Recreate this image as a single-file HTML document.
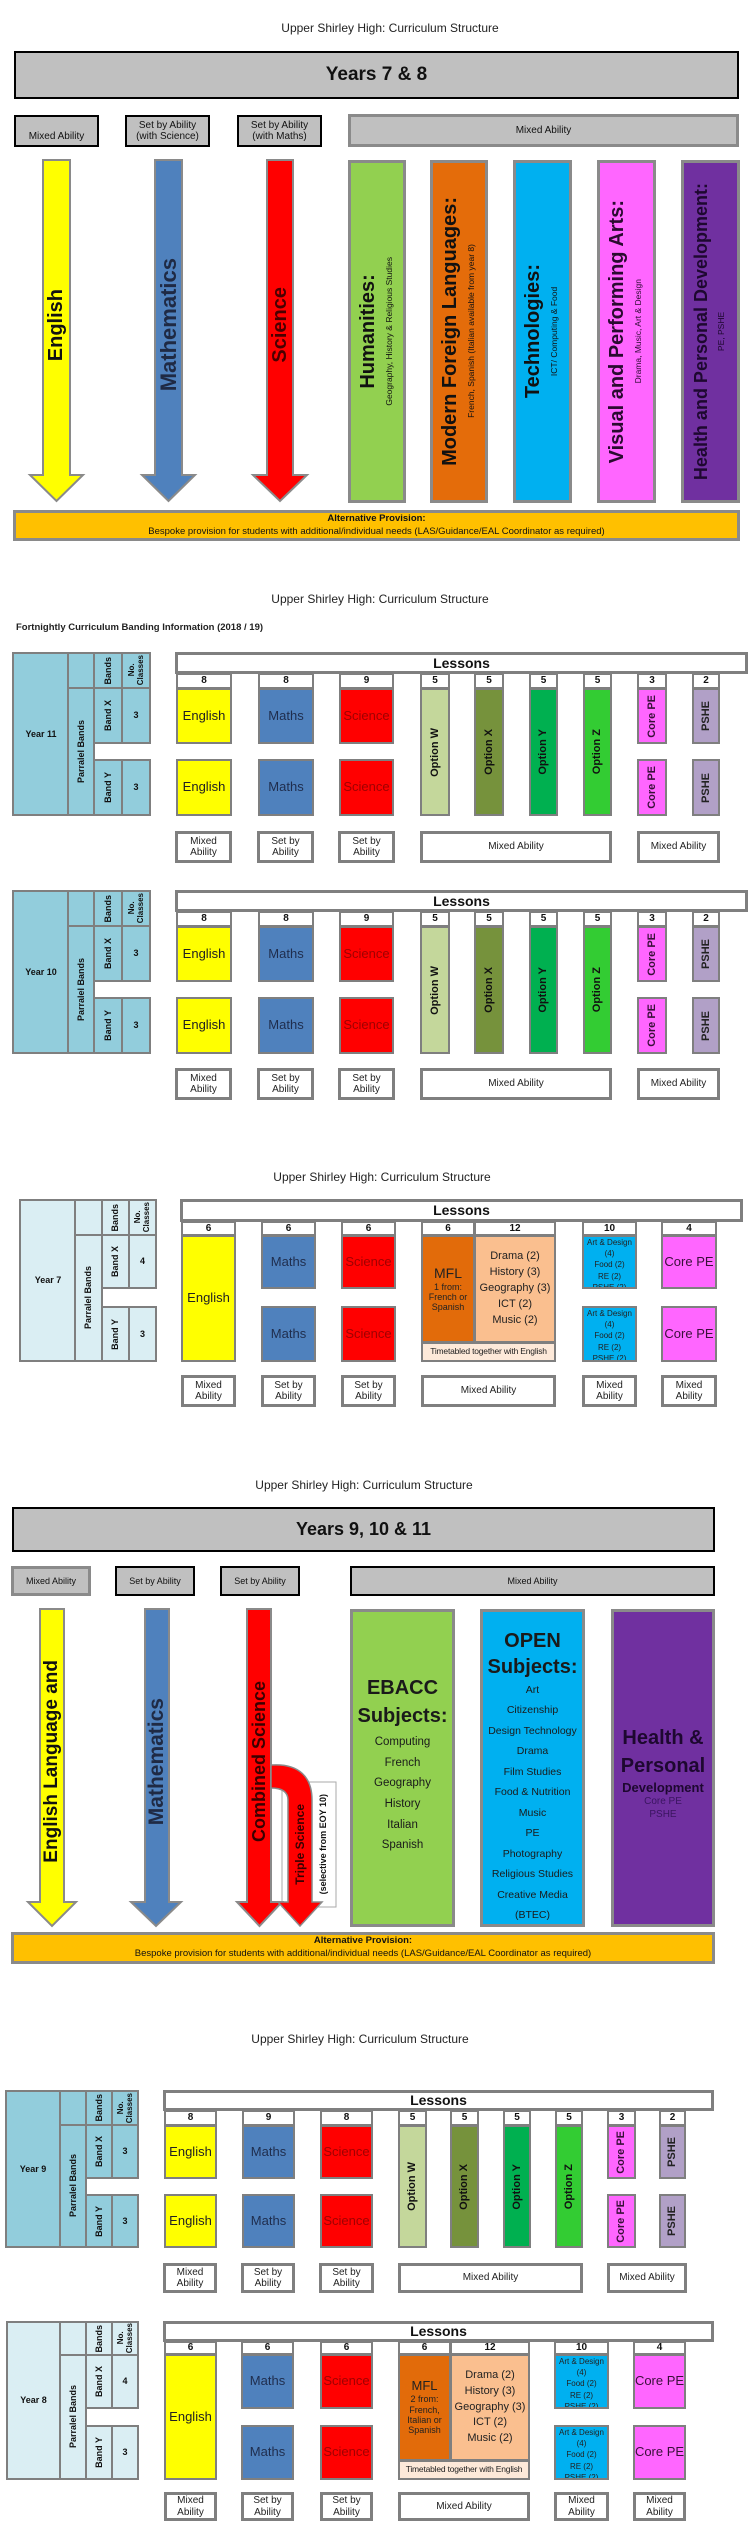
<!DOCTYPE html>
<html><head><meta charset="utf-8">
<style>
*{margin:0;padding:0}
body{width:753px;height:2539px;position:relative;background:#fff;font-family:"Liberation Sans",sans-serif;color:#111;overflow:hidden}
.a{position:absolute;box-sizing:border-box}
.b{position:absolute;box-sizing:border-box;display:flex;align-items:center;justify-content:center;text-align:center;border:2px solid #7f7f7f;line-height:1.15}
.g{position:absolute}
.r{writing-mode:vertical-rl;transform:rotate(180deg);display:inline-block;white-space:nowrap}
.t{position:absolute;font-size:12px;color:#222;white-space:nowrap;transform:translate(-50%,-50%)}
.yb{background:#92cddc;font-size:9px;font-weight:bold}
.yl{background:#daeef3;font-size:9px;font-weight:bold}
.n{background:#fff;font-size:10px;font-weight:bold}
.E{background:#ffff00;font-size:13px;color:#222}
.M{background:#4f81bd;font-size:13px;color:#1f2d4d}
.S{background:#ff0000;font-size:13px;color:#a00000}
.OW{background:#c4d79b;font-size:11px;font-weight:bold}
.OX{background:#76923c;font-size:11px;font-weight:bold}
.OY{background:#00b050;font-size:11px;font-weight:bold}
.OZ{background:#33cc33;font-size:11px;font-weight:bold}
.CP{background:#ff66ff;font-size:11px;font-weight:bold;color:#3a103a}
.CPh{background:#ff66ff;font-size:13px;color:#3a103a;white-space:nowrap}
.PS{background:#b1a0c7;font-size:11px;font-weight:bold;color:#222}
.lab{background:#fff;font-size:10px;color:#222;border:3px solid #7f7f7f}
.les{background:#fff;font-size:14px;font-weight:bold;border:3px solid #7f7f7f}
.mfl{background:#e26b0a;font-size:9px;color:#222}
.dr{background:#fabf8f;font-size:11px;color:#222;line-height:1.45}
.art{background:#00b0f0;font-size:8px;color:#222;display:block;overflow:hidden;line-height:1.4;padding-top:0}
.tt{background:#fde9d9;font-size:8.5px;color:#222;white-space:nowrap;overflow:hidden;letter-spacing:-0.2px}
.vh{position:absolute;display:flex;align-items:center;justify-content:center}
.vh>div{writing-mode:vertical-rl;transform:rotate(180deg);white-space:nowrap;text-align:center}
.nar{font-family:"Liberation Sans Narrow","Liberation Sans",sans-serif}
</style></head><body>

<!-- ============ SECTION 1 ============ -->
<div class="t" style="left:390px;top:28px">Upper Shirley High: Curriculum Structure</div>
<div class="b" style="left:14px;top:51px;width:725px;height:48px;background:#c0c0c0;border:2px solid #000;font-size:19px;font-weight:bold">Years 7 &amp; 8</div>
<div class="b" style="left:14px;top:115px;width:85px;height:32px;background:#c0c0c0;border:2px solid #000;font-size:10px;align-items:flex-end;padding-bottom:3px">Mixed Ability</div>
<div class="b" style="left:125px;top:115px;width:85px;height:32px;background:#c0c0c0;border:2px solid #000;font-size:10px">Set by Ability<br>(with Science)</div>
<div class="b" style="left:237px;top:115px;width:85px;height:32px;background:#c0c0c0;border:2px solid #000;font-size:10px">Set by Ability<br>(with Maths)</div>
<div class="b" style="left:348px;top:114px;width:391px;height:33px;background:#c0c0c0;border:3px solid #8a8a8a;font-size:10px;align-items:flex-start;padding-top:8px">Mixed Ability</div>

<svg class="a" style="left:0;top:0" width="753" height="560">
<polygon points="43,160 70,160 70,475 83,475 56.5,501 30,475 43,475" fill="#ffff00" stroke="#8a8a8a" stroke-width="2"/>
<polygon points="155,160 182,160 182,475 195,475 168.5,501 142,475 155,475" fill="#4f81bd" stroke="#8a8a8a" stroke-width="2"/>
<polygon points="267,160 293,160 293,475 307,475 280,501 253,475 267,475" fill="#ff0000" stroke="#8a8a8a" stroke-width="2"/>
</svg>
<div class="vh" style="left:43px;top:160px;width:27px;height:330px"><div style="font-size:20px;font-weight:bold;color:#111">English</div></div>
<div class="vh" style="left:155px;top:160px;width:27px;height:330px"><div style="font-size:22px;font-weight:bold;color:#1f2a44">Mathematics</div></div>
<div class="vh" style="left:267px;top:160px;width:26px;height:330px"><div style="font-size:20px;font-weight:bold;color:#4a0000">Science</div></div>

<div class="vh" style="left:348px;top:160px;width:58px;height:343px;background:#92d050;border:3px solid #8a8a8a;box-sizing:border-box"><div><b style="font-size:20px">Humanities:</b><br><span style="font-size:8.5px">Geography, History &amp; Religious Studies</span></div></div>
<div class="vh" style="left:430px;top:160px;width:58px;height:343px;background:#e46c0a;border:3px solid #8a8a8a;box-sizing:border-box"><div><b style="font-size:20px">Modern Foreign Languages:</b><br><span style="font-size:8.5px">French, Spanish (Italian available from year 8)</span></div></div>
<div class="vh" style="left:513px;top:160px;width:59px;height:343px;background:#00b0f0;border:3px solid #8a8a8a;box-sizing:border-box"><div><b style="font-size:20px">Technologies:</b><br><span style="font-size:8.5px">ICT/ Computing &amp; Food</span></div></div>
<div class="vh" style="left:597px;top:160px;width:59px;height:343px;background:#ff66ff;border:3px solid #8a8a8a;box-sizing:border-box"><div style="color:#2a0a30"><b style="font-size:20px">Visual and Performing Arts:</b><br><span style="font-size:8.5px">Drama, Music, Art &amp; Design</span></div></div>
<div class="vh" style="left:681px;top:160px;width:59px;height:343px;background:#7030a0;border:3px solid #8a8a8a;box-sizing:border-box"><div style="color:#1e0830"><b style="font-size:18px">Health and Personal Development:</b><br><span style="font-size:8.5px">PE, PSHE</span></div></div>

<div class="b" style="left:13px;top:510px;width:727px;height:31px;background:#ffc000;border:3px solid #8a8a8a;font-size:9.5px;line-height:1.35"><div><b>Alternative Provision:</b><br>Bespoke provision for students with additional/individual needs (LAS/Guidance/EAL Coordinator as required)</div></div>

<!-- ============ SECTION 2 ============ -->
<div class="t" style="left:380px;top:599px">Upper Shirley High: Curriculum Structure</div>
<div class="a" style="left:16px;top:622px;font-size:9.5px;font-weight:bold;white-space:nowrap;color:#222">Fortnightly Curriculum Banding Information (2018 / 19)</div>

<div class="g" style="left:12px;top:652px">
<div class="b yb" style="left:0;top:0;width:58px;height:164px">Year 11</div>
<div class="b yb" style="left:55px;top:0;width:28px;height:37px"></div>
<div class="b yb" style="left:55px;top:35px;width:28px;height:129px"><span class="r">Parralel Bands</span></div>
<div class="b yb" style="left:81px;top:0;width:30px;height:37px"><span class="r">Bands</span></div>
<div class="b yb" style="left:109px;top:0;width:30px;height:37px;font-size:8px"><span class="r">No.<br>Classes</span></div>
<div class="b yb" style="left:81px;top:35px;width:30px;height:57px"><span class="r">Band X</span></div>
<div class="b yb" style="left:109px;top:35px;width:30px;height:57px">3</div>
<div class="b yb" style="left:81px;top:107px;width:30px;height:57px"><span class="r">Band Y</span></div>
<div class="b yb" style="left:109px;top:107px;width:30px;height:57px">3</div>
</div>
<div class="g" style="left:175px;top:652px">
<div class="b les" style="left:0;top:0;width:573px;height:22px">Lessons</div>
<div class="b n" style="left:1px;top:21px;width:56px;height:16px">8</div>
<div class="b n" style="left:83px;top:21px;width:56px;height:16px">8</div>
<div class="b n" style="left:164px;top:21px;width:55px;height:16px">9</div>
<div class="b n" style="left:245px;top:21px;width:30px;height:16px">5</div>
<div class="b n" style="left:299px;top:21px;width:30px;height:16px">5</div>
<div class="b n" style="left:354px;top:21px;width:29px;height:16px">5</div>
<div class="b n" style="left:408px;top:21px;width:29px;height:16px">5</div>
<div class="b n" style="left:462px;top:21px;width:30px;height:16px">3</div>
<div class="b n" style="left:517px;top:21px;width:28px;height:16px">2</div>
<div class="b E" style="left:1px;top:36px;width:56px;height:56px">English</div>
<div class="b E" style="left:1px;top:107px;width:56px;height:57px">English</div>
<div class="b M" style="left:83px;top:36px;width:56px;height:56px">Maths</div>
<div class="b M" style="left:83px;top:107px;width:56px;height:57px">Maths</div>
<div class="b S" style="left:164px;top:36px;width:55px;height:56px">Science</div>
<div class="b S" style="left:164px;top:107px;width:55px;height:57px">Science</div>
<div class="b OW" style="left:245px;top:36px;width:30px;height:128px"><span class="r">Option W</span></div>
<div class="b OX" style="left:299px;top:36px;width:30px;height:128px"><span class="r">Option X</span></div>
<div class="b OY" style="left:354px;top:36px;width:29px;height:128px"><span class="r">Option Y</span></div>
<div class="b OZ" style="left:408px;top:36px;width:29px;height:128px"><span class="r">Option Z</span></div>
<div class="b CP" style="left:462px;top:36px;width:30px;height:56px"><span class="r">Core PE</span></div>
<div class="b CP" style="left:462px;top:107px;width:30px;height:57px"><span class="r">Core PE</span></div>
<div class="b PS" style="left:517px;top:36px;width:28px;height:56px"><span class="r">PSHE</span></div>
<div class="b PS" style="left:517px;top:107px;width:28px;height:57px"><span class="r">PSHE</span></div>
<div class="b lab" style="left:0;top:179px;width:57px;height:32px">Mixed<br>Ability</div>
<div class="b lab" style="left:82px;top:179px;width:57px;height:32px">Set by<br>Ability</div>
<div class="b lab" style="left:163px;top:179px;width:57px;height:32px">Set by<br>Ability</div>
<div class="b lab" style="left:245px;top:179px;width:192px;height:32px">Mixed Ability</div>
<div class="b lab" style="left:462px;top:179px;width:83px;height:32px">Mixed Ability</div>
</div>

<div class="g" style="left:12px;top:890px">
<div class="b yb" style="left:0;top:0;width:58px;height:164px">Year 10</div>
<div class="b yb" style="left:55px;top:0;width:28px;height:37px"></div>
<div class="b yb" style="left:55px;top:35px;width:28px;height:129px"><span class="r">Parralel Bands</span></div>
<div class="b yb" style="left:81px;top:0;width:30px;height:37px"><span class="r">Bands</span></div>
<div class="b yb" style="left:109px;top:0;width:30px;height:37px;font-size:8px"><span class="r">No.<br>Classes</span></div>
<div class="b yb" style="left:81px;top:35px;width:30px;height:57px"><span class="r">Band X</span></div>
<div class="b yb" style="left:109px;top:35px;width:30px;height:57px">3</div>
<div class="b yb" style="left:81px;top:107px;width:30px;height:57px"><span class="r">Band Y</span></div>
<div class="b yb" style="left:109px;top:107px;width:30px;height:57px">3</div>
</div>
<div class="g" style="left:175px;top:890px">
<div class="b les" style="left:0;top:0;width:573px;height:22px">Lessons</div>
<div class="b n" style="left:1px;top:21px;width:56px;height:16px">8</div>
<div class="b n" style="left:83px;top:21px;width:56px;height:16px">8</div>
<div class="b n" style="left:164px;top:21px;width:55px;height:16px">9</div>
<div class="b n" style="left:245px;top:21px;width:30px;height:16px">5</div>
<div class="b n" style="left:299px;top:21px;width:30px;height:16px">5</div>
<div class="b n" style="left:354px;top:21px;width:29px;height:16px">5</div>
<div class="b n" style="left:408px;top:21px;width:29px;height:16px">5</div>
<div class="b n" style="left:462px;top:21px;width:30px;height:16px">3</div>
<div class="b n" style="left:517px;top:21px;width:28px;height:16px">2</div>
<div class="b E" style="left:1px;top:36px;width:56px;height:56px">English</div>
<div class="b E" style="left:1px;top:107px;width:56px;height:57px">English</div>
<div class="b M" style="left:83px;top:36px;width:56px;height:56px">Maths</div>
<div class="b M" style="left:83px;top:107px;width:56px;height:57px">Maths</div>
<div class="b S" style="left:164px;top:36px;width:55px;height:56px">Science</div>
<div class="b S" style="left:164px;top:107px;width:55px;height:57px">Science</div>
<div class="b OW" style="left:245px;top:36px;width:30px;height:128px"><span class="r">Option W</span></div>
<div class="b OX" style="left:299px;top:36px;width:30px;height:128px"><span class="r">Option X</span></div>
<div class="b OY" style="left:354px;top:36px;width:29px;height:128px"><span class="r">Option Y</span></div>
<div class="b OZ" style="left:408px;top:36px;width:29px;height:128px"><span class="r">Option Z</span></div>
<div class="b CP" style="left:462px;top:36px;width:30px;height:56px"><span class="r">Core PE</span></div>
<div class="b CP" style="left:462px;top:107px;width:30px;height:57px"><span class="r">Core PE</span></div>
<div class="b PS" style="left:517px;top:36px;width:28px;height:56px"><span class="r">PSHE</span></div>
<div class="b PS" style="left:517px;top:107px;width:28px;height:57px"><span class="r">PSHE</span></div>
<div class="b lab" style="left:0;top:178px;width:57px;height:32px">Mixed<br>Ability</div>
<div class="b lab" style="left:82px;top:178px;width:57px;height:32px">Set by<br>Ability</div>
<div class="b lab" style="left:163px;top:178px;width:57px;height:32px">Set by<br>Ability</div>
<div class="b lab" style="left:245px;top:178px;width:192px;height:32px">Mixed Ability</div>
<div class="b lab" style="left:462px;top:178px;width:83px;height:32px">Mixed Ability</div>
</div>

<!-- ============ SECTION 3 ============ -->
<div class="t" style="left:382px;top:1177px">Upper Shirley High: Curriculum Structure</div>
<div class="g" style="left:19px;top:1199px">
<div class="b yl" style="left:0;top:0;width:58px;height:163px">Year 7</div>
<div class="b yl" style="left:55px;top:0;width:29px;height:37px"></div>
<div class="b yl" style="left:55px;top:35px;width:29px;height:128px"><span class="r">Parralel Bands</span></div>
<div class="b yl" style="left:82px;top:0;width:29px;height:37px"><span class="r">Bands</span></div>
<div class="b yl" style="left:109px;top:0;width:29px;height:37px;font-size:8px"><span class="r">No.<br>Classes</span></div>
<div class="b yl" style="left:82px;top:35px;width:29px;height:55px"><span class="r">Band X</span></div>
<div class="b yl" style="left:109px;top:35px;width:29px;height:55px">4</div>
<div class="b yl" style="left:82px;top:107px;width:29px;height:56px"><span class="r">Band Y</span></div>
<div class="b yl" style="left:109px;top:107px;width:29px;height:56px">3</div>
</div>
<div class="g" style="left:180px;top:1199px">
<div class="b les" style="left:0;top:0;width:563px;height:23px">Lessons</div>
<div class="b n" style="left:1px;top:22px;width:55px;height:15px">6</div>
<div class="b n" style="left:81px;top:22px;width:55px;height:15px">6</div>
<div class="b n" style="left:161px;top:22px;width:55px;height:15px">6</div>
<div class="b n" style="left:241px;top:22px;width:54px;height:15px">6</div>
<div class="b n" style="left:294px;top:22px;width:82px;height:15px">12</div>
<div class="b n" style="left:402px;top:22px;width:55px;height:15px">10</div>
<div class="b n" style="left:481px;top:22px;width:56px;height:15px">4</div>
<div class="b E" style="left:1px;top:36px;width:55px;height:127px">English</div>
<div class="b M" style="left:81px;top:36px;width:55px;height:54px">Maths</div>
<div class="b M" style="left:81px;top:107px;width:55px;height:56px">Maths</div>
<div class="b S" style="left:161px;top:36px;width:55px;height:54px">Science</div>
<div class="b S" style="left:161px;top:107px;width:55px;height:56px">Science</div>
<div class="b mfl" style="left:241px;top:36px;width:54px;height:108px"><div><span style="font-size:14px">MFL</span><br>1 from:<br>French or<br>Spanish</div></div>
<div class="b dr" style="left:294px;top:36px;width:82px;height:108px"><div>Drama (2)<br>History (3)<br>Geography (3)<br>ICT (2)<br>Music (2)</div></div>
<div class="b tt" style="left:241px;top:143px;width:135px;height:20px">Timetabled together with English</div>
<div class="b art" style="left:402px;top:36px;width:55px;height:54px">Art &amp; Design<br>(4)<br>Food (2)<br>RE (2)<br>PSHE (2)</div>
<div class="b art" style="left:402px;top:107px;width:55px;height:56px">Art &amp; Design<br>(4)<br>Food (2)<br>RE (2)<br>PSHE (2)</div>
<div class="b CPh" style="left:481px;top:36px;width:56px;height:54px">Core PE</div>
<div class="b CPh" style="left:481px;top:107px;width:56px;height:56px">Core PE</div>
<div class="b lab" style="left:1px;top:176px;width:55px;height:32px">Mixed<br>Ability</div>
<div class="b lab" style="left:81px;top:176px;width:55px;height:32px">Set by<br>Ability</div>
<div class="b lab" style="left:161px;top:176px;width:55px;height:32px">Set by<br>Ability</div>
<div class="b lab" style="left:241px;top:176px;width:135px;height:32px">Mixed Ability</div>
<div class="b lab" style="left:402px;top:176px;width:55px;height:32px">Mixed<br>Ability</div>
<div class="b lab" style="left:481px;top:176px;width:56px;height:32px">Mixed<br>Ability</div>
</div>

<!-- ============ SECTION 4 ============ -->
<div class="t" style="left:364px;top:1485px">Upper Shirley High: Curriculum Structure</div>
<div class="b" style="left:12px;top:1507px;width:703px;height:45px;background:#c0c0c0;border:2px solid #000;font-size:18px;font-weight:bold">Years 9, 10 &amp; 11</div>
<div class="b" style="left:11px;top:1566px;width:80px;height:30px;background:#c0c0c0;border:3px solid #8a8a8a;font-size:9px">Mixed Ability</div>
<div class="b" style="left:115px;top:1566px;width:80px;height:30px;background:#c0c0c0;border:2px solid #000;font-size:9px">Set by Ability</div>
<div class="b" style="left:220px;top:1566px;width:80px;height:30px;background:#c0c0c0;border:2px solid #000;font-size:9px">Set by Ability</div>
<div class="b" style="left:350px;top:1566px;width:365px;height:30px;background:#c0c0c0;border:2px solid #000;font-size:9px">Mixed Ability</div>

<svg class="a" style="left:0;top:1460px" width="753" height="500">
<g transform="translate(0,-1460)">
<polygon points="40,1609 64,1609 64,1902 76,1902 52,1926 28,1902 40,1902" fill="#ffff00" stroke="#8a8a8a" stroke-width="2"/>
<polygon points="145,1609 169,1609 169,1902 181,1902 156,1926 131,1902 145,1902" fill="#4f81bd" stroke="#8a8a8a" stroke-width="2"/>
<rect x="282" y="1782" width="54" height="125" fill="#fff" stroke="#aaa" stroke-width="1"/>
<polygon points="247,1609 271,1609 271,1902 282,1902 259.5,1926 237,1902 247,1902" fill="#ff0000" stroke="#8a8a8a" stroke-width="2"/>
<path d="M271,1765 C300,1763 312,1778 312,1800 L312,1902 L322,1902 L300,1926 L278,1902 L288,1902 L288,1800 C288,1792 282,1788 271,1788 Z" fill="#ff0000" stroke="#8a8a8a" stroke-width="1.5"/>
<rect x="248" y="1766" width="22" height="21" fill="#ff0000"/>
</g>
</svg>
<div class="vh" style="left:40px;top:1609px;width:24px;height:305px"><div style="font-size:19px;font-weight:bold;color:#111">English Language and</div></div>
<div class="vh" style="left:145px;top:1609px;width:24px;height:305px"><div style="font-size:21px;font-weight:bold;color:#1f2a44">Mathematics</div></div>
<div class="vh" style="left:247px;top:1609px;width:24px;height:305px"><div style="font-size:18px;font-weight:bold;color:#3a0000">Combined Science</div></div>
<div class="vh" style="left:288px;top:1790px;width:24px;height:108px"><div style="font-size:12px;font-weight:bold;color:#3a0000">Triple Science</div></div>
<div class="vh" style="left:312px;top:1790px;width:22px;height:108px"><div style="font-size:9px;font-weight:bold;color:#111">(selective from EOY 10)</div></div>

<div class="b" style="left:350px;top:1609px;width:105px;height:318px;background:#92d050;border:3px solid #8a8a8a;align-items:flex-start;padding-top:62px;font-size:11.5px;line-height:1.8;color:#1a1a1a"><div><div class="nar" style="font-size:20px;font-weight:bold;line-height:1.4;margin-bottom:2px">EBACC<br>Subjects:</div>Computing<br>French<br>Geography<br>History<br>Italian<br>Spanish</div></div>
<div class="b" style="left:480px;top:1609px;width:105px;height:318px;background:#00b0f0;border:3px solid #8a8a8a;align-items:flex-start;padding-top:16px;font-size:10.5px;line-height:1.95;color:#1a1a1a"><div><div class="nar" style="font-size:20px;font-weight:bold;line-height:1.3;margin-bottom:0">OPEN<br>Subjects:</div>Art<br>Citizenship<br>Design Technology<br>Drama<br>Film Studies<br>Food &amp; Nutrition<br>Music<br>PE<br>Photography<br><span style="line-height:1.4">Religious Studies<br>Creative Media<br>(BTEC)</span></div></div>
<div class="b" style="left:611px;top:1609px;width:104px;height:318px;background:#7030a0;border:3px solid #8a8a8a;align-items:flex-start;padding-top:112px;color:#1e0830;line-height:1.25"><div><div class="nar" style="font-size:20px;font-weight:bold;line-height:1.4">Health &amp;<br>Personal</div><div class="nar" style="font-size:13px;font-weight:bold">Development</div><div style="font-size:10px;color:#3a1560">Core PE<br>PSHE</div></div></div>

<div class="b" style="left:11px;top:1932px;width:704px;height:32px;background:#ffc000;border:3px solid #8a8a8a;font-size:9.5px;line-height:1.35"><div><b>Alternative Provision:</b><br>Bespoke provision for students with additional/individual needs (LAS/Guidance/EAL Coordinator as required)</div></div>

<!-- ============ SECTION 5 ============ -->
<div class="t" style="left:360px;top:2039px">Upper Shirley High: Curriculum Structure</div>
<div class="g" style="left:5px;top:2090px">
<div class="b yb" style="left:0;top:0;width:56px;height:158px">Year 9</div>
<div class="b yb" style="left:54px;top:0;width:28px;height:36px"></div>
<div class="b yb" style="left:54px;top:34px;width:28px;height:124px"><span class="r">Parralel Bands</span></div>
<div class="b yb" style="left:80px;top:0;width:28px;height:36px"><span class="r">Bands</span></div>
<div class="b yb" style="left:106px;top:0;width:28px;height:36px;font-size:8px"><span class="r">No.<br>Classes</span></div>
<div class="b yb" style="left:80px;top:34px;width:28px;height:55px"><span class="r">Band X</span></div>
<div class="b yb" style="left:106px;top:34px;width:28px;height:55px">3</div>
<div class="b yb" style="left:80px;top:104px;width:28px;height:54px"><span class="r">Band Y</span></div>
<div class="b yb" style="left:106px;top:104px;width:28px;height:54px">3</div>
</div>
<div class="g" style="left:163px;top:2090px">
<div class="b les" style="left:0;top:0;width:551px;height:21px">Lessons</div>
<div class="b n" style="left:1px;top:20px;width:53px;height:16px">8</div>
<div class="b n" style="left:79px;top:20px;width:53px;height:16px">9</div>
<div class="b n" style="left:157px;top:20px;width:53px;height:16px">8</div>
<div class="b n" style="left:235px;top:20px;width:29px;height:16px">5</div>
<div class="b n" style="left:287px;top:20px;width:29px;height:16px">5</div>
<div class="b n" style="left:340px;top:20px;width:28px;height:16px">5</div>
<div class="b n" style="left:392px;top:20px;width:28px;height:16px">5</div>
<div class="b n" style="left:444px;top:20px;width:29px;height:16px">3</div>
<div class="b n" style="left:496px;top:20px;width:27px;height:16px">2</div>
<div class="b E" style="left:1px;top:35px;width:53px;height:54px">English</div>
<div class="b E" style="left:1px;top:104px;width:53px;height:54px">English</div>
<div class="b M" style="left:79px;top:35px;width:53px;height:54px">Maths</div>
<div class="b M" style="left:79px;top:104px;width:53px;height:54px">Maths</div>
<div class="b S" style="left:157px;top:35px;width:53px;height:54px">Science</div>
<div class="b S" style="left:157px;top:104px;width:53px;height:54px">Science</div>
<div class="b OW" style="left:235px;top:35px;width:29px;height:123px"><span class="r">Option W</span></div>
<div class="b OX" style="left:287px;top:35px;width:29px;height:123px"><span class="r">Option X</span></div>
<div class="b OY" style="left:340px;top:35px;width:28px;height:123px"><span class="r">Option Y</span></div>
<div class="b OZ" style="left:392px;top:35px;width:28px;height:123px"><span class="r">Option Z</span></div>
<div class="b CP" style="left:444px;top:35px;width:29px;height:54px"><span class="r">Core PE</span></div>
<div class="b CP" style="left:444px;top:104px;width:29px;height:54px"><span class="r">Core PE</span></div>
<div class="b PS" style="left:496px;top:35px;width:27px;height:54px"><span class="r">PSHE</span></div>
<div class="b PS" style="left:496px;top:104px;width:27px;height:54px"><span class="r">PSHE</span></div>
<div class="b lab" style="left:0;top:173px;width:54px;height:30px">Mixed<br>Ability</div>
<div class="b lab" style="left:78px;top:173px;width:54px;height:30px">Set by<br>Ability</div>
<div class="b lab" style="left:156px;top:173px;width:55px;height:30px">Set by<br>Ability</div>
<div class="b lab" style="left:235px;top:173px;width:185px;height:30px">Mixed Ability</div>
<div class="b lab" style="left:444px;top:173px;width:80px;height:30px">Mixed Ability</div>
</div>

<div class="g" style="left:6px;top:2321px">
<div class="b yl" style="left:0;top:0;width:55px;height:159px">Year 8</div>
<div class="b yl" style="left:53px;top:0;width:28px;height:35px"></div>
<div class="b yl" style="left:53px;top:33px;width:28px;height:126px"><span class="r">Parralel Bands</span></div>
<div class="b yl" style="left:79px;top:0;width:28px;height:35px"><span class="r">Bands</span></div>
<div class="b yl" style="left:105px;top:0;width:28px;height:35px;font-size:8px"><span class="r">No.<br>Classes</span></div>
<div class="b yl" style="left:79px;top:33px;width:28px;height:55px"><span class="r">Band X</span></div>
<div class="b yl" style="left:105px;top:33px;width:28px;height:55px">4</div>
<div class="b yl" style="left:79px;top:104px;width:28px;height:55px"><span class="r">Band Y</span></div>
<div class="b yl" style="left:105px;top:104px;width:28px;height:55px">3</div>
</div>
<div class="g" style="left:163px;top:2321px">
<div class="b les" style="left:0;top:0;width:551px;height:21px">Lessons</div>
<div class="b n" style="left:1px;top:20px;width:53px;height:14px">6</div>
<div class="b n" style="left:78px;top:20px;width:53px;height:14px">6</div>
<div class="b n" style="left:157px;top:20px;width:53px;height:14px">6</div>
<div class="b n" style="left:235px;top:20px;width:53px;height:14px">6</div>
<div class="b n" style="left:287px;top:20px;width:80px;height:14px">12</div>
<div class="b n" style="left:391px;top:20px;width:55px;height:14px">10</div>
<div class="b n" style="left:470px;top:20px;width:53px;height:14px">4</div>
<div class="b E" style="left:1px;top:33px;width:53px;height:126px">English</div>
<div class="b M" style="left:78px;top:33px;width:53px;height:55px">Maths</div>
<div class="b M" style="left:78px;top:104px;width:53px;height:55px">Maths</div>
<div class="b S" style="left:157px;top:33px;width:53px;height:55px">Science</div>
<div class="b S" style="left:157px;top:104px;width:53px;height:55px">Science</div>
<div class="b mfl" style="left:235px;top:33px;width:53px;height:107px"><div><span style="font-size:13px">MFL</span><br>2 from:<br>French,<br>Italian or<br>Spanish</div></div>
<div class="b dr" style="left:287px;top:33px;width:80px;height:107px"><div>Drama (2)<br>History (3)<br>Geography (3)<br>ICT (2)<br>Music (2)</div></div>
<div class="b tt" style="left:235px;top:139px;width:132px;height:20px">Timetabled together with English</div>
<div class="b art" style="left:391px;top:33px;width:55px;height:55px">Art &amp; Design<br>(4)<br>Food (2)<br>RE (2)<br>PSHE (2)</div>
<div class="b art" style="left:391px;top:104px;width:55px;height:55px">Art &amp; Design<br>(4)<br>Food (2)<br>RE (2)<br>PSHE (2)</div>
<div class="b CPh" style="left:470px;top:33px;width:53px;height:55px">Core PE</div>
<div class="b CPh" style="left:470px;top:104px;width:53px;height:55px">Core PE</div>
<div class="b lab" style="left:1px;top:171px;width:53px;height:29px">Mixed<br>Ability</div>
<div class="b lab" style="left:78px;top:171px;width:53px;height:29px">Set by<br>Ability</div>
<div class="b lab" style="left:157px;top:171px;width:53px;height:29px">Set by<br>Ability</div>
<div class="b lab" style="left:235px;top:171px;width:132px;height:29px">Mixed Ability</div>
<div class="b lab" style="left:391px;top:171px;width:55px;height:29px">Mixed<br>Ability</div>
<div class="b lab" style="left:470px;top:171px;width:53px;height:29px">Mixed<br>Ability</div>
</div>

</body></html>
